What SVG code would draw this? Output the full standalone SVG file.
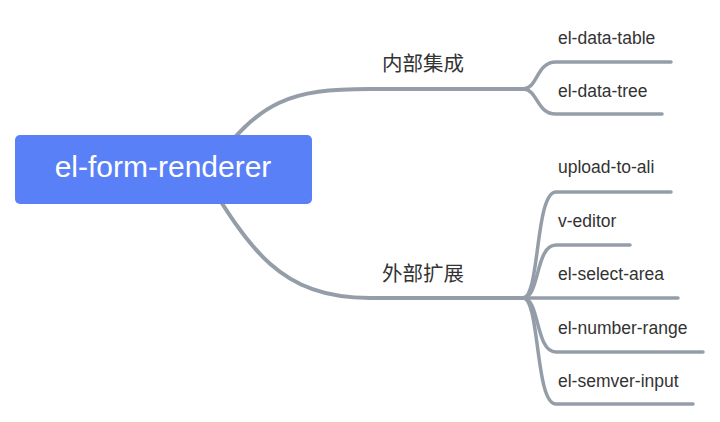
<svg xmlns="http://www.w3.org/2000/svg" width="720" height="422" viewBox="0 0 720 422">
<style>
.ln{fill:none;stroke:#959ea8;stroke-linecap:round}
.main{stroke-width:4}
.sub{stroke-width:3.5}
.t{font-family:"Liberation Sans",Arial,sans-serif;font-size:17.5px;fill:#333}
.c{font-family:"Noto Sans CJK SC","Liberation Sans",sans-serif;font-size:20.5px;fill:#333}
</style>
<rect width="720" height="422" fill="#fff"/>
<g id="connectors">
<path class="ln main" d="M210 168 C260 100 290 89 370 89 L525 89"/>
<path class="ln main" d="M200 168 C250 250 280 298 370 298 L525 298"/>
<path class="ln sub" d="M523 89 C538 89 536 62 556 62 L671 62"/>
<path class="ln sub" d="M523 89 C538 89 536 114 556 114 L662 114"/>
<path class="ln sub" d="M523 298 C540 298 535 192 556 192 L671 192"/>
<path class="ln sub" d="M523 298 C540 298 535 245 556 245 L630 245"/>
<path class="ln sub" d="M523 298 L678 298"/>
<path class="ln sub" d="M523 298 C540 298 535 352 556 352 L703 352"/>
<path class="ln sub" d="M523 298 C540 298 535 404 556 404 L693 404"/>
</g>
<g id="root">
<rect x="15" y="135" width="297" height="69" rx="5" fill="#5a80f7"/>
<text x="163" y="177" text-anchor="middle" font-family="'Liberation Sans',Arial,sans-serif" font-size="30" fill="#fff">el-form-renderer</text>
</g>
<g id="n-internal"><text class="c" x="382" y="71">内部集成</text></g>
<g id="n-external"><text class="c" x="382" y="281">外部扩展</text></g>
<g id="n-table"><text class="t" x="558" y="44">el-data-table</text></g>
<g id="n-tree"><text class="t" x="558" y="97">el-data-tree</text></g>
<g id="n-upload"><text class="t" x="558" y="173">upload-to-ali</text></g>
<g id="n-veditor"><text class="t" x="558" y="227">v-editor</text></g>
<g id="n-area"><text class="t" x="558" y="280">el-select-area</text></g>
<g id="n-range"><text class="t" x="558" y="334">el-number-range</text></g>
<g id="n-semver"><text class="t" x="558" y="387">el-semver-input</text></g>
</svg>
